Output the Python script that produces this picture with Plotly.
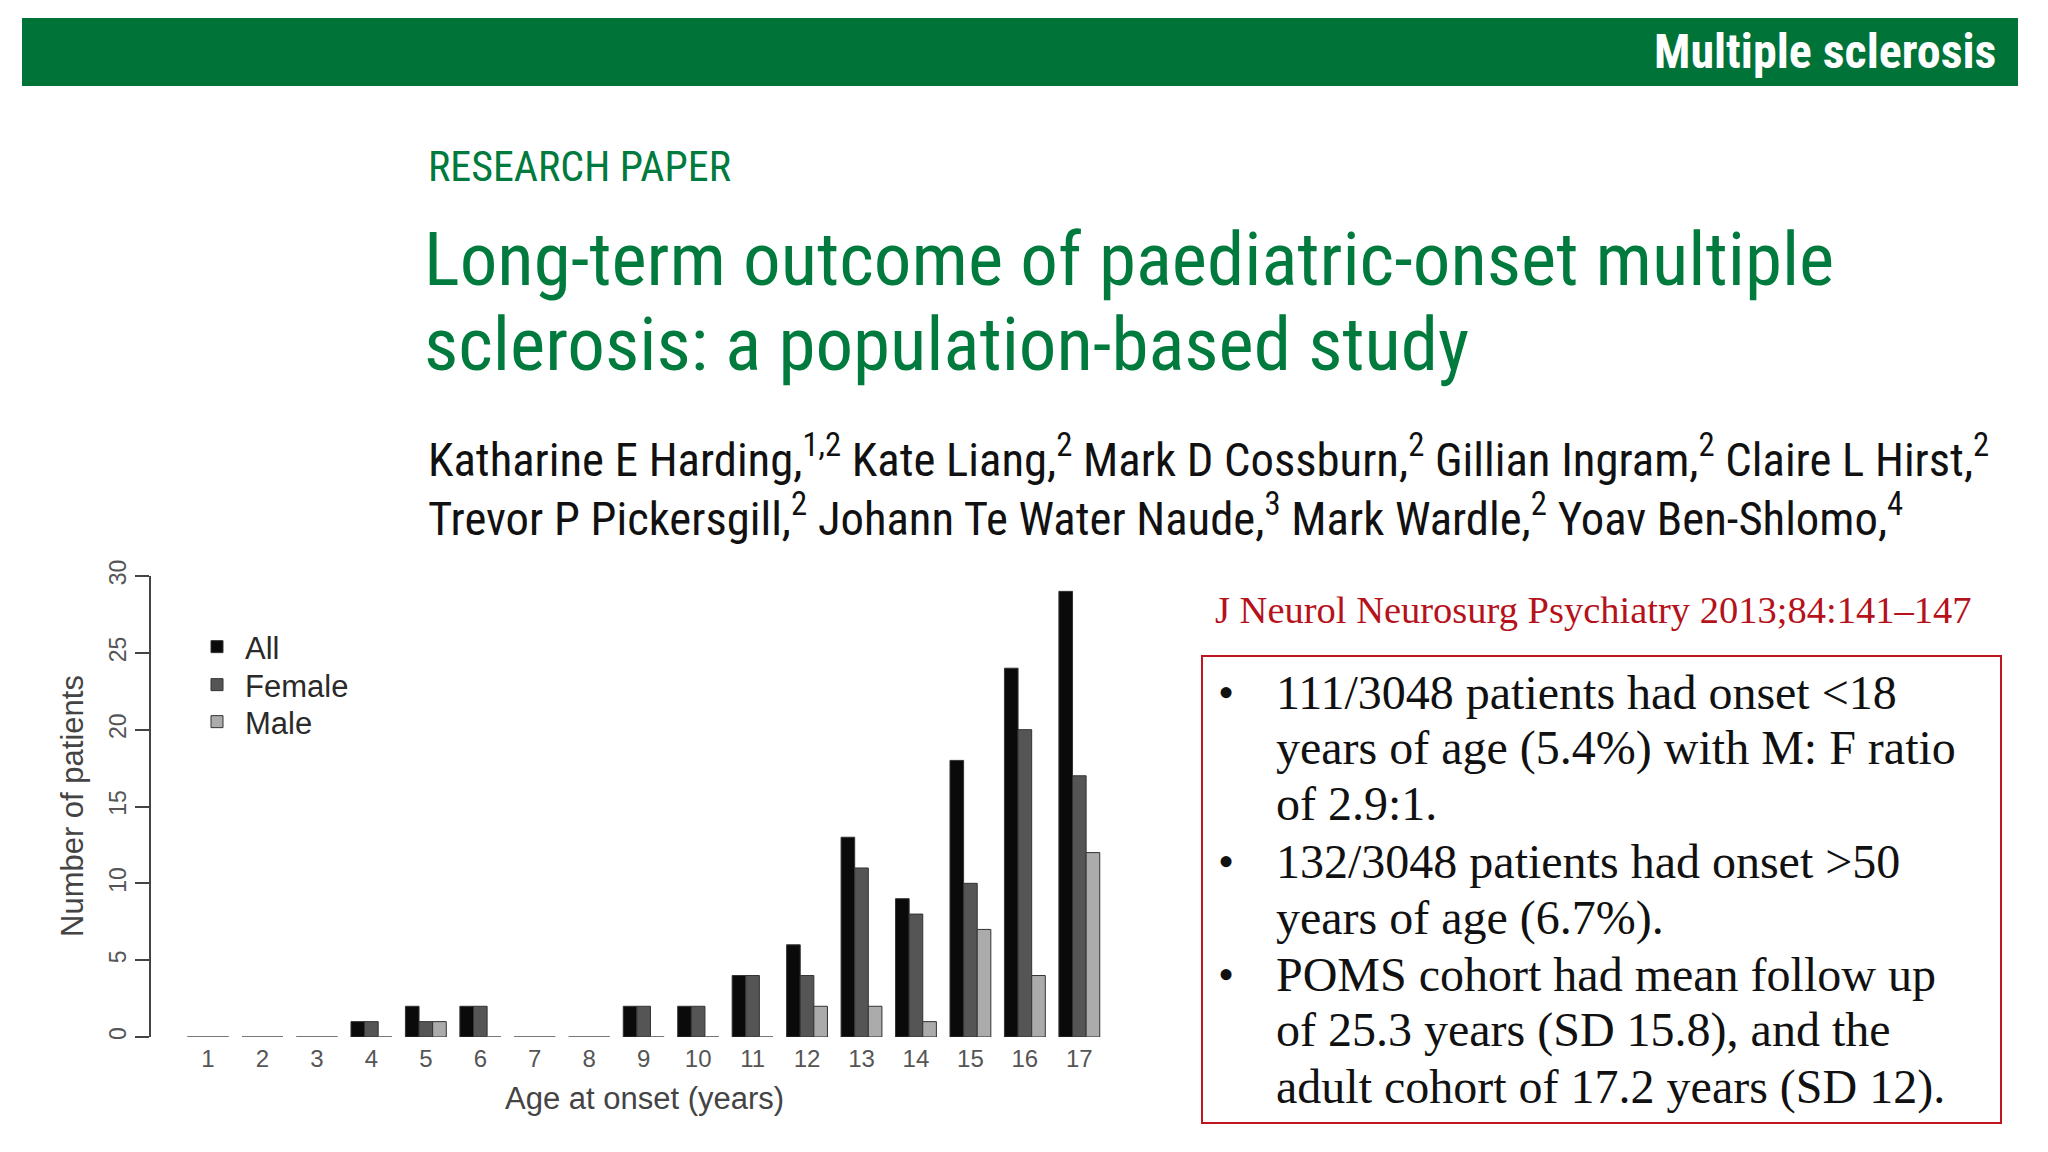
import plotly.graph_objects as go

# ---- data ----
ages = list(range(1, 18))
age_labels = [str(a) for a in ages]
all_counts = [0, 0, 0, 1, 2, 2, 0, 0, 2, 2, 4, 6, 13, 9, 18, 24, 29]
female_counts = [0, 0, 0, 1, 1, 2, 0, 0, 2, 2, 4, 4, 11, 8, 10, 20, 17]
male_counts = [0, 0, 0, 0, 1, 0, 0, 0, 0, 0, 0, 2, 2, 1, 7, 4, 12]
series_names = ["All", "Female", "Male"]
series_colors = ["#0a0a0a", "#555555", "#ababab"]
y_ticks = [0, 5, 10, 15, 20, 25, 30]

bullets = [
    ("•", "111/3048 patients had onset &lt;18"),
    ("", "years of age (5.4%) with M: F ratio"),
    ("", "of 2.9:1."),
    ("•", "132/3048 patients had onset &gt;50"),
    ("", "years of age (6.7%)."),
    ("•", "POMS cohort had mean follow up"),
    ("", "of 25.3 years (SD 15.8), and the"),
    ("", "adult cohort of 17.2 years (SD 12)."),
]

W, H = 2048, 1152


def px(x):
    return x / W


def py(y):
    return 1 - y / H


NARROW = "Liberation Sans Narrow, Arial Narrow, Roboto Condensed, Liberation Sans, sans-serif"
SANS = "Liberation Sans, Arial, Helvetica, sans-serif"
SERIF = "Liberation Serif, Times New Roman, serif"

fig = go.Figure()

group_frac = 0.75
bar_w = group_frac / 3
all_series = [all_counts, female_counts, male_counts]
legend_ids = ["legend", "legend2", "legend3"]
for name, vals, col, lg in zip(series_names, all_series, series_colors, legend_ids):
    fig.add_trace(go.Bar(
        x=ages, y=vals, name=name, legend=lg,
        marker=dict(color=col, line=dict(color="#333333", width=1)),
    ))

# thin outlines for zero-height bars (R barplot draws them as a flat line)
zx, zy = [], []
for k, vals in enumerate(all_series):
    off = (k - 1) * bar_w
    for a, v in zip(ages, vals):
        if v == 0:
            zx += [a + off - bar_w / 2, a + off + bar_w / 2, None]
            zy += [0, 0, None]
fig.add_trace(go.Scatter(x=zx, y=zy, mode="lines", line=dict(color="#777777", width=2),
                         showlegend=False, hoverinfo="skip"))


def legend_box(ycenter):
    return dict(
        x=px(189), y=py(ycenter), xanchor="left", yanchor="middle",
        font=dict(family=SANS, size=31, color="#2a2a2a"),
        bgcolor="rgba(0,0,0,0)", borderwidth=0, itemwidth=46,
    )


fig.update_layout(
    template="none",
    width=W, height=H,
    margin=dict(l=0, r=0, t=0, b=0, autoexpand=False),
    paper_bgcolor="white", plot_bgcolor="white",
    barmode="group", bargap=1 - group_frac, bargroupgap=0,
    showlegend=True,
    legend=legend_box(647),
    legend2=legend_box(685),
    legend3=legend_box(722),
    xaxis=dict(
        domain=[px(151), px(1112)], range=[-0.047, 17.6],
        tickmode="array", tickvals=ages, ticktext=age_labels,
        showline=False, showgrid=False, zeroline=False, ticks="",
        tickfont=dict(family=SANS, size=24, color="#555555"),
        ticklabelstandoff=5, automargin=False,
    ),
    yaxis=dict(
        domain=[py(1037), py(576)], range=[0, 30],
        tickmode="array", tickvals=y_ticks,
        showline=True, linecolor="#444444", linewidth=2,
        ticks="outside", ticklen=14, tickcolor="#444444", tickwidth=2,
        showgrid=False, zeroline=False, tickangle=-90,
        tickfont=dict(family=SANS, size=23, color="#555555"),
        ticklabelstandoff=0, automargin=False,
    ),
    font=dict(family=SANS),
)

shapes = [
    dict(type="rect", xref="paper", yref="paper", x0=px(22), x1=px(2018), y0=py(86), y1=py(18),
         fillcolor="#007338", line=dict(width=0), layer="below"),
    dict(type="rect", xref="paper", yref="paper", x0=px(1202), x1=px(2001), y0=py(1123), y1=py(656),
         fillcolor="rgba(0,0,0,0)", line=dict(color="#c0141e", width=2)),
]
fig.update_layout(shapes=shapes)

ann = []


def A(text, x, y, size, color, family, xanchor="left", textangle=0):
    ann.append(dict(text=text, x=px(x), y=py(y), xref="paper", yref="paper",
                    xanchor=xanchor, yanchor="middle", showarrow=False, textangle=textangle,
                    font=dict(size=size, color=color, family=family)))


A("<b>Multiple sclerosis</b>", 1998, 52, 48, "white", NARROW, xanchor="right")
A("RESEARCH PAPER", 426, 166, 42, "#007a3d", NARROW)
A("Long-term outcome of paediatric-onset multiple", 422, 259, 75, "#007a3d", NARROW)
A("sclerosis: a population-based study", 422, 344, 75, "#007a3d", NARROW)
A("Katharine E Harding,<sup>1,2</sup> Kate Liang,<sup>2</sup> Mark D Cossburn,<sup>2</sup> "
  "Gillian Ingram,<sup>2</sup> Claire L Hirst,<sup>2</sup>", 426, 457, 46.7, "#111111", NARROW)
A("Trevor P Pickersgill,<sup>2</sup> Johann Te Water Naude,<sup>3</sup> Mark Wardle,<sup>2</sup> "
  "Yoav Ben-Shlomo,<sup>4</sup>", 426, 515, 46.7, "#111111", NARROW)
A("J Neurol Neurosurg Psychiatry 2013;84:141–147", 1213, 610, 38.5, "#b5121b", SERIF)

line_ys = [692, 748, 803, 861, 918, 974, 1030, 1087]
for (b, t), yy in zip(bullets, line_ys):
    if b:
        A(b, 1216, yy, 46, "#111111", SERIF)
    A(t, 1274, yy, 48, "#111111", SERIF)

A("Number of patients", 72, 806, 31, "#444444", SANS, xanchor="center", textangle=-90)
A("Age at onset (years)", 644, 1098, 31, "#444444", SANS, xanchor="center")

fig.update_layout(annotations=ann)
fig.write_html("out.html")
